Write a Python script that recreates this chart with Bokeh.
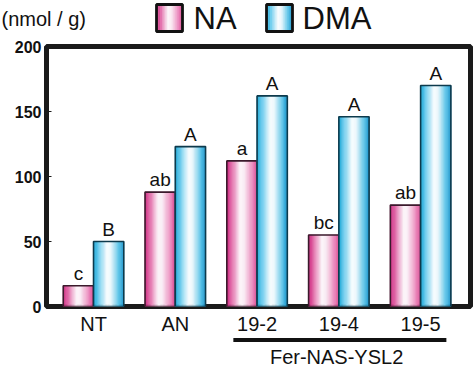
import numpy as np
from bokeh.plotting import figure
from bokeh.models import FixedTicker, Range1d
from bokeh.layouts import column, row
from bokeh.embed import file_html
from bokeh.resources import INLINE
from bokeh.core.properties import value

# ---------------- data ----------------
groups = ["NT", "AN", "19-2", "19-4", "19-5"]
na = [16, 88, 112, 55, 78]
dma = [50, 123, 162, 146, 170]
na_letters = ["c", "ab", "a", "bc", "ab"]
dma_letters = ["B", "A", "A", "A", "A"]
y_ticks = [0, 50, 100, 150, 200]
series_names = ["NA", "DMA"]
unit_label = "(nmol / g)"
bracket_label = "Fer-NAS-YSL2"
bracket_first, bracket_last = "19-2", "19-5"

# ---------------- style ----------------
FONT = "Liberation Sans"
INK = "#111111"
NA_STOPS = [(0.0, (206, 36, 126)), (0.18, (226, 110, 170)), (0.45, (252, 246, 250)),
            (0.58, (250, 236, 244)), (0.85, (236, 140, 190)), (1.0, (220, 76, 148))]
DMA_STOPS = [(0.0, (20, 165, 215)), (0.18, (110, 205, 238)), (0.45, (248, 252, 254)),
             (0.58, (236, 248, 252)), (0.85, (90, 195, 232)), (1.0, (30, 150, 205))]
NA_EDGE = "#3b1a2c"
DMA_EDGE = "#0d3a4c"
N_STRIPS = 26
BW = 0.37
W = 474
TOP_H = 38
MAIN_H = 299
BOT_H = 31


def gradient(stops, n):
    ts = (np.arange(n) + 0.5) / n
    out = []
    for t in ts:
        for (t0, c0), (t1, c1) in zip(stops[:-1], stops[1:]):
            if t0 <= t <= t1:
                f = (t - t0) / (t1 - t0)
                c = [int(round(a + (b - a) * f)) for a, b in zip(c0, c1)]
                out.append("#%02x%02x%02x" % tuple(c))
                break
    return out


def blank(h, xr):
    f = figure(width=W, height=h, output_backend="svg", toolbar_location=None,
               x_range=xr, y_range=Range1d(h, 0),
               x_axis_type=None, y_axis_type=None,
               min_border=0, min_border_left=0, min_border_right=0,
               min_border_top=0, min_border_bottom=0)
    f.grid.visible = False
    f.outline_line_color = None
    return f


# ---------------- header (unit + legend), pixel coordinates ----------------
top = blank(TOP_H, Range1d(0, W))
top.text(x=[1], y=[29], text=[unit_label], text_align="left", text_baseline="bottom",
         text_font=value(FONT), text_font_size="20px", text_color=INK)

legend_boxes = [(156, 182, 193), (266, 292, 302)]
for name, stops, (sx0, sx1, tx) in zip(series_names, [NA_STOPS, DMA_STOPS], legend_boxes):
    n = 14
    cols = gradient(stops, n)
    edges = np.linspace(sx0, sx1, n + 1)
    top.quad(left=edges[:-1], right=edges[1:], top=[4] * n, bottom=[31] * n,
             fill_color=cols, line_color=cols, line_width=0.6)
    top.quad(left=[sx0], right=[sx1], top=[4], bottom=[31], fill_color=None,
             line_color=INK, line_width=2.8)
    top.text(x=[tx], y=[35], text=[name], text_align="left", text_baseline="bottom",
             text_font=value(FONT), text_font_size="31px", text_color=INK)

# ---------------- main chart ----------------
xr = Range1d(-0.575, 4.61)
p = figure(width=W, height=MAIN_H, output_backend="svg", toolbar_location=None,
           x_range=xr, y_range=Range1d(0, 200),
           min_border_left=46, min_border_right=4, min_border_top=8,
           min_border_bottom=31)
p.xgrid.visible = False
p.ygrid.visible = False
p.outline_line_color = "#1a1a1a"
p.outline_line_width = 5

centers = np.arange(len(groups), dtype=float)


def draw_bars(offset_sign, vals, stops, edge):
    cols = gradient(stops, N_STRIPS)
    L, R, T, C = [], [], [], []
    lefts = [c if offset_sign > 0 else c - BW for c in centers]
    for left, v in zip(lefts, vals):
        edges = np.linspace(left, left + BW, N_STRIPS + 1)
        for k in range(N_STRIPS):
            L.append(edges[k]); R.append(edges[k + 1]); T.append(v); C.append(cols[k])
    p.quad(left=L, right=R, top=T, bottom=0, fill_color=C, line_color=C, line_width=0.6)
    p.quad(left=lefts, right=[l + BW for l in lefts], top=vals, bottom=0,
           fill_color=None, line_color=edge, line_width=1.6)


draw_bars(-1, na, NA_STOPS, NA_EDGE)
draw_bars(1, dma, DMA_STOPS, DMA_EDGE)

for xs, vals, letters in [(centers - BW / 2, na, na_letters), (centers + BW / 2, dma, dma_letters)]:
    p.text(x=xs, y=vals, text=letters, text_align="center", text_baseline="bottom",
           y_offset=-2, text_font=value(FONT), text_font_size="19px", text_color=INK)

p.xaxis.ticker = FixedTicker(ticks=list(range(len(groups))))
p.xaxis.major_label_overrides = {i: g for i, g in enumerate(groups)}
p.xaxis.axis_line_color = None
p.xaxis.major_tick_line_color = None
p.xaxis.minor_tick_line_color = None
p.xaxis.major_label_text_font = FONT
p.xaxis.major_label_text_font_size = "20px"
p.xaxis.major_label_text_color = INK
p.xaxis.major_label_standoff = 0

p.yaxis.ticker = FixedTicker(ticks=y_ticks)
p.yaxis.axis_line_color = None
p.yaxis.major_tick_in = 5
p.yaxis.major_tick_out = 0
p.yaxis.major_tick_line_color = "#1a1a1a"
p.yaxis.minor_tick_line_color = None
p.yaxis.major_label_text_font = FONT
p.yaxis.major_label_text_font_style = "bold"
p.yaxis.major_label_text_font_size = "16px"
p.yaxis.major_label_text_color = INK
p.yaxis.major_label_standoff = 5

# ---------------- bracket under the transgenic lines (shares the x scale) ----------------
bot = blank(BOT_H, xr)
b0 = groups.index(bracket_first) - 0.29
b1 = groups.index(bracket_last) + 0.315
bot.segment(x0=[b0], y0=[2.5], x1=[b1], y1=[2.5], line_color=INK, line_width=4)
bot.text(x=[(b0 + b1) / 2 - 0.04], y=[30], text=[bracket_label], text_align="center",
         text_baseline="bottom", text_font=value(FONT), text_font_size="20px",
         text_color=INK)

layout = column(row(top), p, bot, spacing=0)
open("out.html", "w").write(file_html(layout, INLINE))
